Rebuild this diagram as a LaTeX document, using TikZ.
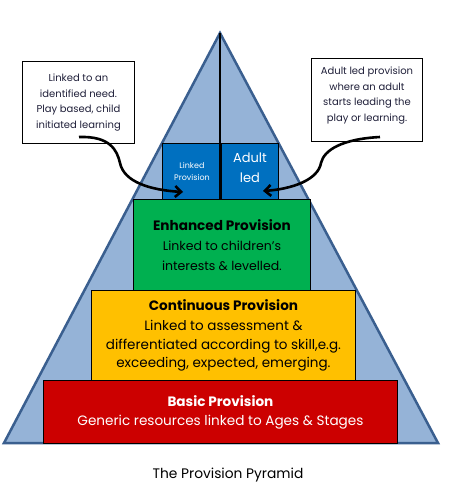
\documentclass[tikz,border=0pt]{standalone}
\usepackage{fontspec}
\setmainfont{Poppins}
\usetikzlibrary{arrows.meta}
\definecolor{pyrfill}{HTML}{95B3D7}
\definecolor{pyrline}{HTML}{3A5F8F}
\definecolor{tblue}{HTML}{0070C0}
\definecolor{tgreen}{HTML}{00B050}
\definecolor{tyellow}{HTML}{FFC000}
\definecolor{tred}{HTML}{CC0000}
\definecolor{notetxt}{HTML}{20203A}
\newcommand{\tiertitle}[1]{{\fontsize{13.6}{19}\selectfont\bfseries #1}}
\tikzset{
  pyramid/.style={fill=pyrfill, draw=pyrline, line width=2.5pt, line join=miter},
  tier/.style={draw=black, line width=0.9pt, anchor=north west, inner sep=0pt, align=center},
  note/.style={draw=black, fill=white, line width=0.9pt, anchor=north west, inner sep=0pt},
  notetext/.style={text=notetxt, font=\fontsize{10}{15.5}\selectfont, align=center, inner sep=0pt, anchor=north},
  callarrow/.style={line width=2.6pt, -{Straight Barb[length=6pt,width=11pt]}},
}
\begin{document}
\begin{tikzpicture}[x=1pt,y=-1pt]
\useasboundingbox (0,0) rectangle (448,494);
\fill[white] (0,0) rectangle (448,494);
% pyramid
\coordinate (apex) at (220,33);
\coordinate (bl) at (4,443);
\coordinate (br) at (438,443);
\draw[pyramid] (apex) -- (br) -- (bl) -- cycle;
% tiers
\node[tier, fill=tred, text=white, minimum width=354, minimum height=63,
      font=\fontsize{13.6}{19}\selectfont] (basic) at (43,380)
  {\tiertitle{Basic Provision}\\
   Generic resources linked to Ages \& Stages};
\node[tier, fill=tyellow, text=black, minimum width=264, minimum height=90,
      font=\fontsize{13.5}{18.5}\selectfont] (cont) at (91,290)
  {\tiertitle{Continuous Provision}\\[2pt]
   Linked to assessment \&\\ differentiated according to skill,e.g.\\ exceeding, expected, emerging.};
\node[tier, fill=tgreen, text=black, minimum width=177, minimum height=91,
      font=\fontsize{12.5}{20}\selectfont] (enh) at (133,199)
  {\tiertitle{Enhanced Provision}\\
   Linked to children’s\\ interests \& levelled.};
\node[tier, fill=tblue, text=white, minimum width=59, minimum height=56,
      font=\fontsize{8}{12}\selectfont] (linked) at (162,143)
  {Linked\\ Provision};
\node[tier, fill=tblue, text=white, minimum width=57, minimum height=56,
      font=\fontsize{13}{20}\selectfont] (adult) at (221,143)
  {Adult\\ led\\[-12pt]\mbox{}};
% central line
\draw[line width=2.5pt] (apex) -- (apex |- enh.north);
% notes
\node[note, minimum width=112, minimum height=82] (lnote) at (22,61) {};
\node[notetext] (ltext) at ([yshift=-13]lnote.north)
  {Linked to an\\ identified need.\\ Play based, child\\ initiated learning};
\node[note, minimum width=111, minimum height=83] (rnote) at (311,58) {};
\node[notetext] (rtext) at ([yshift=-9]rnote.north)
  {Adult led provision\\ where an adult\\ starts leading the\\ play or learning.};
% arrows
\coordinate (ls) at (79,137);
\coordinate (lt) at (183,192);
\coordinate (rs) at (380,137);
\coordinate (rt) at (263,191);
\draw[callarrow] (ls) .. controls (110,136) and (117,150) .. (120,163)
  .. controls (124,182) and (150,190) .. (lt);
\draw[callarrow] (rs) .. controls (342,139) and (324,150) .. (321,163)
  .. controls (318,180) and (292,189) .. (rt);
% caption
\node[font=\fontsize{13.8}{16}\selectfont, text=black] (cap) at (228,475) {The Provision Pyramid};
\end{tikzpicture}
\end{document}
